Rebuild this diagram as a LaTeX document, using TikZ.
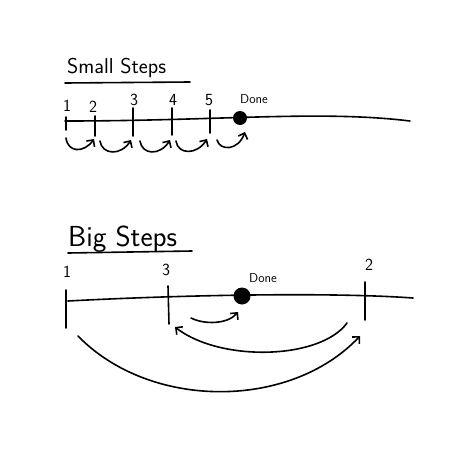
\documentclass[tikz,border=0pt]{standalone}
\usepackage{tikz}
\usetikzlibrary{arrows.meta}

\tikzset{
  sketch/.style={line width=1.6pt, line cap=round, line join=round},
  hop/.style={sketch, -{Straight Barb[length=5pt,width=10pt,line width=1.6pt]}},
  numlabel/.style={font=\sffamily\fontsize{17}{17}\selectfont, inner sep=0pt},
  donelabel/.style={font=\sffamily\fontsize{13}{13}\selectfont, inner sep=0pt},
  titlelabel/.style={inner sep=0pt, anchor=base west},
  goal/.style={circle, fill, inner sep=0pt},
}

\begin{document}
\begin{tikzpicture}[x=1pt, y=-1pt]
  \useasboundingbox (0,0) rectangle (474,474);

  % small steps
  \node[titlelabel, font=\sffamily\fontsize{21.5}{22}\selectfont] (smalltitle) at (67,73) {Small Steps};
  \coordinate (su1) at (65,83); \coordinate (su2) at (190,82);
  \draw[sketch] (su1) -- (su2);
  \coordinate (sL) at (65,121); \coordinate (sR) at (410,121);
  \draw[sketch] (sL) .. controls (220,121) and (320,110) .. (sR);
  \coordinate (s1t) at (66,117); \coordinate (s1b) at (66,130); \node[numlabel] (s1) at (67,106) {1};
  \coordinate (s2t) at (95,116); \coordinate (s2b) at (95,136); \node[numlabel] (s2) at (93,107) {2};
  \coordinate (s3t) at (133,108); \coordinate (s3b) at (133,136); \node[numlabel] (s3) at (134,100) {3};
  \coordinate (s4t) at (172,108); \coordinate (s4b) at (172,135); \node[numlabel] (s4) at (173,100) {4};
  \coordinate (s5t) at (210,110); \coordinate (s5b) at (210,133); \node[numlabel] (s5) at (209,100) {5};
  \draw[sketch] (s1t) -- (s1b) (s2t) -- (s2b) (s3t) -- (s3b) (s4t) -- (s4b) (s5t) -- (s5b);
  \node[goal, minimum size=14pt] (sdone) at (240,118) {};
  \node[donelabel] (sdonetext) at (254,99) {Done};
  \coordinate (h1a) at (66,138);  \coordinate (h1b) at (94,139);
  \coordinate (h2a) at (100,141); \coordinate (h2b) at (131,140);
  \coordinate (h3a) at (140,141); \coordinate (h3b) at (170,140);
  \coordinate (h4a) at (176,141); \coordinate (h4b) at (207,139);
  \coordinate (h5a) at (217,140); \coordinate (h5b) at (245,132);
  \draw[hop] (h1a) .. controls (68,153) and (84,153) .. (h1b);
  \draw[hop] (h2a) .. controls (102,155) and (121,156) .. (h2b);
  \draw[hop] (h3a) .. controls (142,155) and (160,156) .. (h3b);
  \draw[hop] (h4a) .. controls (178,155) and (197,155) .. (h4b);
  \draw[hop] (h5a) .. controls (220,151) and (238,151) .. (h5b);

  % big steps
  \node[titlelabel, font=\sffamily\fontsize{29}{30}\selectfont] (bigtitle) at (68,246) {Big Steps};
  \coordinate (bu1) at (68,253); \coordinate (bu2) at (192,251);
  \draw[sketch] (bu1) -- (bu2);
  \coordinate (bL) at (68,301); \coordinate (bR) at (413,298);
  \draw[sketch] (bL) .. controls (180,295) and (330,292) .. (bR);
  \coordinate (b1t) at (66,290); \coordinate (b1b) at (66,328); \node[numlabel] (b1) at (67,272) {1};
  \coordinate (b3t) at (168,286); \coordinate (b3b) at (169,324); \node[numlabel] (b3) at (166,270) {3};
  \coordinate (b2t) at (365,282); \coordinate (b2b) at (365,320); \node[numlabel] (b2) at (369,265) {2};
  \draw[sketch] (b1t) -- (b1b) (b3t) -- (b3b) (b2t) -- (b2b);
  \node[goal, minimum size=17pt] (bdone) at (242,296) {};
  \node[donelabel] (bdonetext) at (263,278) {Done};
  \coordinate (j1a) at (191,318); \coordinate (j1b) at (238,312);
  \coordinate (j2a) at (347,323); \coordinate (j2b) at (175,327);
  \coordinate (j3a) at (78,336);  \coordinate (j3b) at (360,336);
  \draw[hop] (j1a) .. controls (205,325) and (228,324) .. (j1b);
  \draw[hop] (j2a) .. controls (320,360) and (220,362) .. (j2b);
  \draw[hop] (j3a) .. controls (150,410) and (290,410) .. (j3b);
\end{tikzpicture}
\end{document}
